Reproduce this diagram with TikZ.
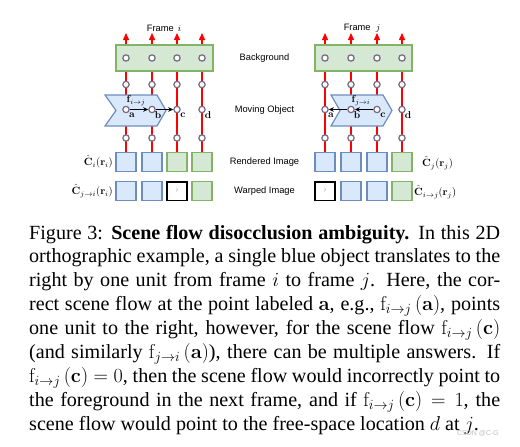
\RequirePackage{fix-cm}
\documentclass[tikz,border=0pt]{standalone}
\usepackage[no-math]{fontspec}
\setmainfont{Liberation Serif}
\setsansfont{Liberation Sans}
\usetikzlibrary{arrows.meta}
\pgfdeclarelayer{bg}
\pgfsetlayers{bg,main}
\definecolor{bfill}{HTML}{DAE8FC}
\definecolor{bline}{HTML}{6C8EBF}
\definecolor{gfill}{HTML}{D5E8D4}
\definecolor{gline}{HTML}{82B366}
\definecolor{dotc}{RGB}{115,105,130}
\definecolor{rline}{HTML}{FF0000}
\definecolor{wmark}{RGB}{190,190,190}
\tikzset{
  dot/.style={circle,draw=dotc,fill=white,line width=1.2pt,inner sep=0pt,minimum size=6.3pt},
  sqbase/.style={line width=1.3pt,minimum width=20pt,minimum height=18.5pt,inner sep=0pt},
  bsq/.style={sqbase,draw=bline,fill=bfill},
  gsq/.style={sqbase,draw=gline,fill=gfill},
  qsq/.style={sqbase,draw=black,fill=white,line width=1.5pt},
  bgbox/.style={draw=gline,fill=gfill,line width=1.3pt,minimum width=97pt,minimum height=26pt,inner sep=0pt},
  objshape/.style={draw=bline,fill=bfill,line width=1.2pt,line join=miter},
  redarr/.style={draw=rline,line width=1.3pt,-{Triangle[length=7pt,width=6pt]}},
  flow/.style={draw=black,line width=0.9pt,-{Stealth[length=5pt,width=4.5pt]}},
  lbl/.style={font=\sffamily\fontsize{9.3}{11}\selectfont,inner sep=0pt},
  ptlbl/.style={font=\fontsize{10}{12}\selectfont,inner sep=0pt},
  flbl/.style={font=\fontsize{10}{12}\selectfont,inner sep=0pt},
  clbl/.style={font=\fontsize{10.5}{12}\selectfont,inner sep=0pt},
  qtxt/.style={font=\fontsize{5}{6}\selectfont,inner sep=0pt,text=dotc},
  captext/.style={font=\fontsize{20.1}{23.9}\selectfont,anchor=base west,inner sep=0pt},
}
\newcommand{\capline}[1]{\makebox[471pt][s]{#1}}
\newcommand{\ff}{\mathrm{f}}
\begin{document}
\begin{tikzpicture}[x=1pt,y=-1pt]
\useasboundingbox (0,0) rectangle (520,447);
% background boxes
\node[bgbox] (bgL) at (164.5,58) {};
\node[bgbox] (bgR) at (363.5,58) {};
% moving objects
\draw[objshape] (105,95) -- (157,95) -- (166,110.5) -- (157,126) -- (105,126) -- (116,110.5) -- cycle;
\draw[objshape] (331,95) -- (383,95) -- (392,110.5) -- (383,126) -- (331,126) -- (340,110.5) -- cycle;
% columns
\foreach \n/\x/\rs/\ws in {L1/126/bsq/bsq, L2/152/bsq/bsq, L3/177/gsq/qsq, L4/202/gsq/gsq,
                            R1/325/bsq/qsq, R2/351/bsq/bsq, R3/377/bsq/bsq, R4/402/gsq/gsq}{
  \coordinate (\n t) at (\x,33);
  \node[dot] (\n b) at (\x,58) {};
  \node[dot] (\n m) at (\x,84.5) {};
  \node[dot] (\n o) at (\x,109.5) {};
  \node[dot] (\n l) at (\x,138) {};
  \node[\rs] (\n r) at (\x,162) {};
  \node[\ws] (\n w) at (\x,191) {};
}
\node[qtxt] (qL) at (L3w) {?};
\node[qtxt] (qR) at (R1w) {?};
% red lines
\begin{pgfonlayer}{bg}
\foreach \n in {L1,L2,L3,L4,R1,R2,R3,R4}{
  \draw[redarr] (\n r.north) -- (\n t);
}
\end{pgfonlayer}
% flow arrows
\draw[flow] (L1o) -- (L2o);
\draw[flow] (L2o) -- (L3o);
\draw[flow] (R3o) -- (R2o);
\draw[flow] (R2o) -- (R1o);
\node[flbl] (fL) at (136,100.5) {$\mathbf{f}_{i\to j}$};
\node[flbl] (fR) at (361,100.5) {$\mathbf{f}_{j\to i}$};
% point labels
\foreach \p/\c in {L1/a,L2/b,L3/c,L4/d,R1/a,R2/b,R3/c,R4/d}{
  \node[ptlbl] (\p lab) at ([shift={(6,6)}]\p o) {$\mathbf{\c}$};
}
% frame labels
\node[lbl] (frI) at (164,28) {Frame\, $i$};
\node[lbl] (frJ) at (362,28) {Frame\ \ $j$};
% row labels
\node[lbl] (tBg) at (264.5,58) {Background};
\node[lbl] (tMo) at (264.5,110.5) {Moving Object};
\node[lbl] (tRe) at (264.5,162) {Rendered Image};
\node[lbl] (tWa) at (264.5,191) {Warped Image};
\node[clbl,anchor=east] (cLi) at (113,162) {$\hat{\mathbf{C}}_i(\mathbf{r}_i)$};
\node[clbl,anchor=east] (cLw) at (113,191) {$\hat{\mathbf{C}}_{j\to i}(\mathbf{r}_i)$};
\node[clbl,anchor=west] (cRj) at (422,163) {$\hat{\mathbf{C}}_j(\mathbf{r}_j)$};
\node[clbl,anchor=west] (cRw) at (414,192) {$\hat{\mathbf{C}}_{i\to j}(\mathbf{r}_j)$};
% caption
\node[captext] (cap1) at (29,239.0) {\capline{Figure 3: \textbf{Scene flow disocclusion ambiguity.} In this 2D}};
\node[captext] (cap2) at (29,262.9) {\capline{orthographic example, a single blue object translates to the}};
\node[captext] (cap3) at (29,286.8) {\capline{right by one unit from frame $i$ to frame $j$. Here, the cor-}};
\node[captext] (cap4) at (29,310.7) {\capline{rect scene flow at the point labeled $\mathbf{a}$, e.g., $\ff_{i\to j}\left(\mathbf{a}\right)$, points}};
\node[captext] (cap5) at (29,334.6) {\capline{one unit to the right, however, for the scene flow $\ff_{i\to j}\left(\mathbf{c}\right)$}};
\node[captext] (cap6) at (29,358.5) {\capline{(and similarly $\ff_{j\to i}\left(\mathbf{a}\right)$), there can be multiple answers. If}};
\node[captext] (cap7) at (29,382.4) {\capline{$\ff_{i\to j}\left(\mathbf{c}\right)=0$, then the scene flow would incorrectly point to}};
\node[captext] (cap8) at (29,406.3) {\capline{the foreground in the next frame, and if $\ff_{i\to j}\left(\mathbf{c}\right)=1$, the}};
\node[captext] (cap9) at (29,430.2) {scene flow would point to the free-space location $d$ at $j$.};
\node[font=\sffamily\fontsize{7}{8}\selectfont,text=wmark,inner sep=0pt] (wm) at (478,433) {CSDN @C-G};
\end{tikzpicture}
\end{document}
